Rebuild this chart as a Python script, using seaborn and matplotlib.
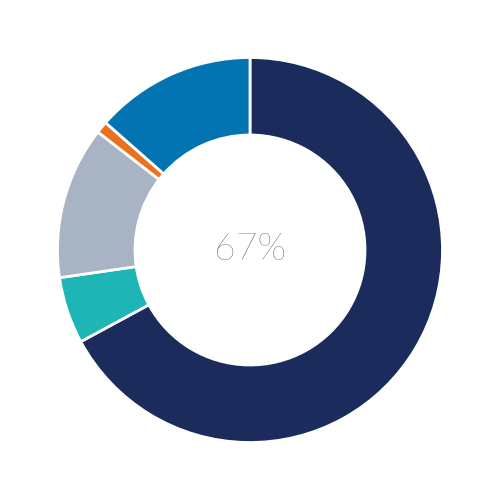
import matplotlib
matplotlib.use("Agg")
import matplotlib.pyplot as plt
import seaborn as sns

sns.set_theme(style="white")
plt.rcParams['font.family'] = ['Lato', 'DejaVu Sans']

labels = ['Navy', 'Teal', 'Gray', 'Orange', 'Blue']
values = [67.1, 5.6, 12.8, 1.0, 13.5]
colors = ['#1b2b5b', '#1db5b6', '#a8b3c3', '#ea711d', '#0274b2']

fig, ax = plt.subplots(figsize=(5, 5), dpi=100)
fig.subplots_adjust(0, 0, 1, 1)
ax.pie(values, colors=colors, startangle=90, counterclock=False, radius=0.77,
       wedgeprops=dict(width=0.31, edgecolor='white', linewidth=2))
ax.text(0, 0, '67%', ha='center', va='center', fontsize=27, color='#3d3d3f',
        fontweight='light')
ax.set_xlim(-1, 1)
ax.set_ylim(-1, 1)
ax.set_aspect('equal')
ax.axis('off')
fig.savefig('out.png', dpi=100, facecolor='white')
